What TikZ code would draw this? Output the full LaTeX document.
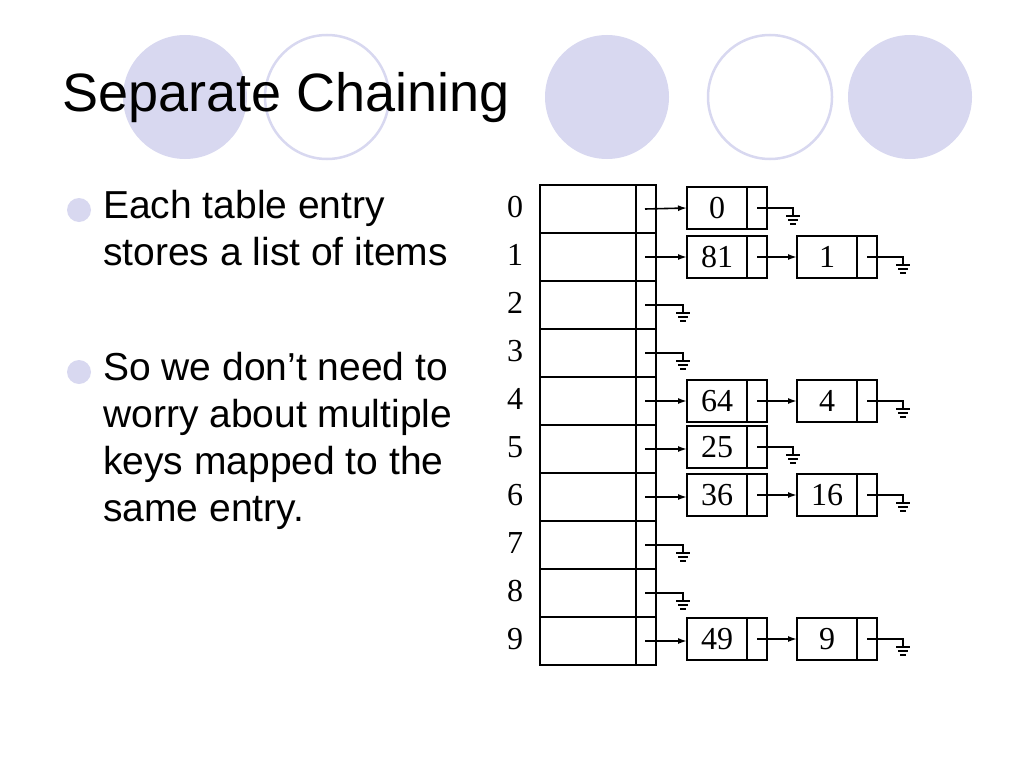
\documentclass[tikz,border=0pt]{standalone}
\usepackage{fontspec}
\setmainfont{Liberation Serif}
\newfontfamily\sansf{Liberation Sans}
\usetikzlibrary{arrows.meta,calc}
\definecolor{lav}{RGB}{216,216,240}
\newcommand\grnd[2]{%
  \draw[nul] (#1) -- ++(#2,0) -- ++(0,8);
  \draw[nul] ($(#1)+(#2,8)+(-7,0)$) -- ++(14,0);
  \draw[nul] ($(#1)+(#2,12)+(-5,0)$) -- ++(10,0);
  \draw[nul] ($(#1)+(#2,16)+(-3,0)$) -- ++(6,0);}
\begin{document}
\begin{tikzpicture}[x=1pt,y=-1pt,
  deco/.style={circle,minimum size=124pt,inner sep=0},
  filled/.style={deco,fill=lav},
  ring/.style={deco,draw=lav,line width=2.5pt,fill=white},
  ptr/.style={line width=1.6pt,-{Latex[length=9pt,width=6pt]}},
  nul/.style={line width=1.6pt},
  lbl/.style={font=\fontsize{32}{32}\selectfont,anchor=center,inner sep=0},
  body/.style={font=\sansf\fontsize{39}{47}\selectfont,anchor=north west,align=left,inner sep=0}]
\useasboundingbox (0,0) rectangle (1024,768);
\node[filled] (c1) at (185,97) {};
\node[ring] (c2) at (327,97) {};
\node[filled] (c3) at (607,97) {};
\node[ring] (c4) at (770,97) {};
\node[filled] (c5) at (910,97) {};
\node[font=\sansf\fontsize{54}{54}\selectfont,anchor=west,inner sep=0] (title) at (62,98) {Separate Chaining};
\fill[lav] (79,210) circle (12pt);
\fill[lav] (79,372) circle (12pt);
\node[body] (b1) at (103,190) {Each table entry\\stores a list of items};
\node[body] (b2) at (103,352) {So we don’t need to\\worry about multiple\\keys mapped to the\\same entry.};
% table
\foreach \i in {0,...,9}{
  \pgfmathsetmacro\yt{185+48*\i}
  \draw[line width=2pt] (540,\yt) rectangle (656,\yt+48);
  \node[lbl] (n\i) at (515,\yt+22) {\i};
  \coordinate (p\i) at (645,\yt+24);
}
\draw[line width=2pt] (636,185) -- (636,665);
\foreach \nm/\yy/\xx/\tx in {a0/208/687/0, a1/257/687/81, b1/257/797/1, a4/401/687/64, b4/401/797/4, a5/447/687/25, a6/495/687/36, b6/495/797/16, a9/639/687/49, b9/639/797/9}{
  \draw[line width=2pt] (\xx,\yy-21) rectangle (\xx+80,\yy+21);
  \draw[line width=2pt] (\xx+60,\yy-21) -- (\xx+60,\yy+21);
  \node[lbl] (\nm) at (\xx+30,\yy) {\tx};
  \coordinate (\nm p) at (\xx+70,\yy);
  \coordinate (\nm in) at (\xx,\yy);
}
\draw[ptr] (p0) -- (a0in);
\draw[ptr] (p1) -- (a1in);
\draw[ptr] (a1p) -- (b1in);
\draw[ptr] (p4) -- (a4in);
\draw[ptr] (a4p) -- (b4in);
\draw[ptr] (p5) -- ($(a5in)+(0,2)$);
\draw[ptr] (p6) -- ($(a6in)+(0,2)$);
\draw[ptr] (a6p) -- (b6in);
\draw[ptr] (p9) -- ($(a9in)+(0,2)$);
\draw[ptr] (a9p) -- (b9in);
\grnd{a0p}{36}
\grnd{b1p}{36}
\grnd{b4p}{36}
\grnd{a5p}{36}
\grnd{b6p}{36}
\grnd{b9p}{36}
\grnd{p2}{38}
\grnd{p3}{38}
\grnd{p7}{38}
\grnd{p8}{38}
\end{tikzpicture}
\end{document}
